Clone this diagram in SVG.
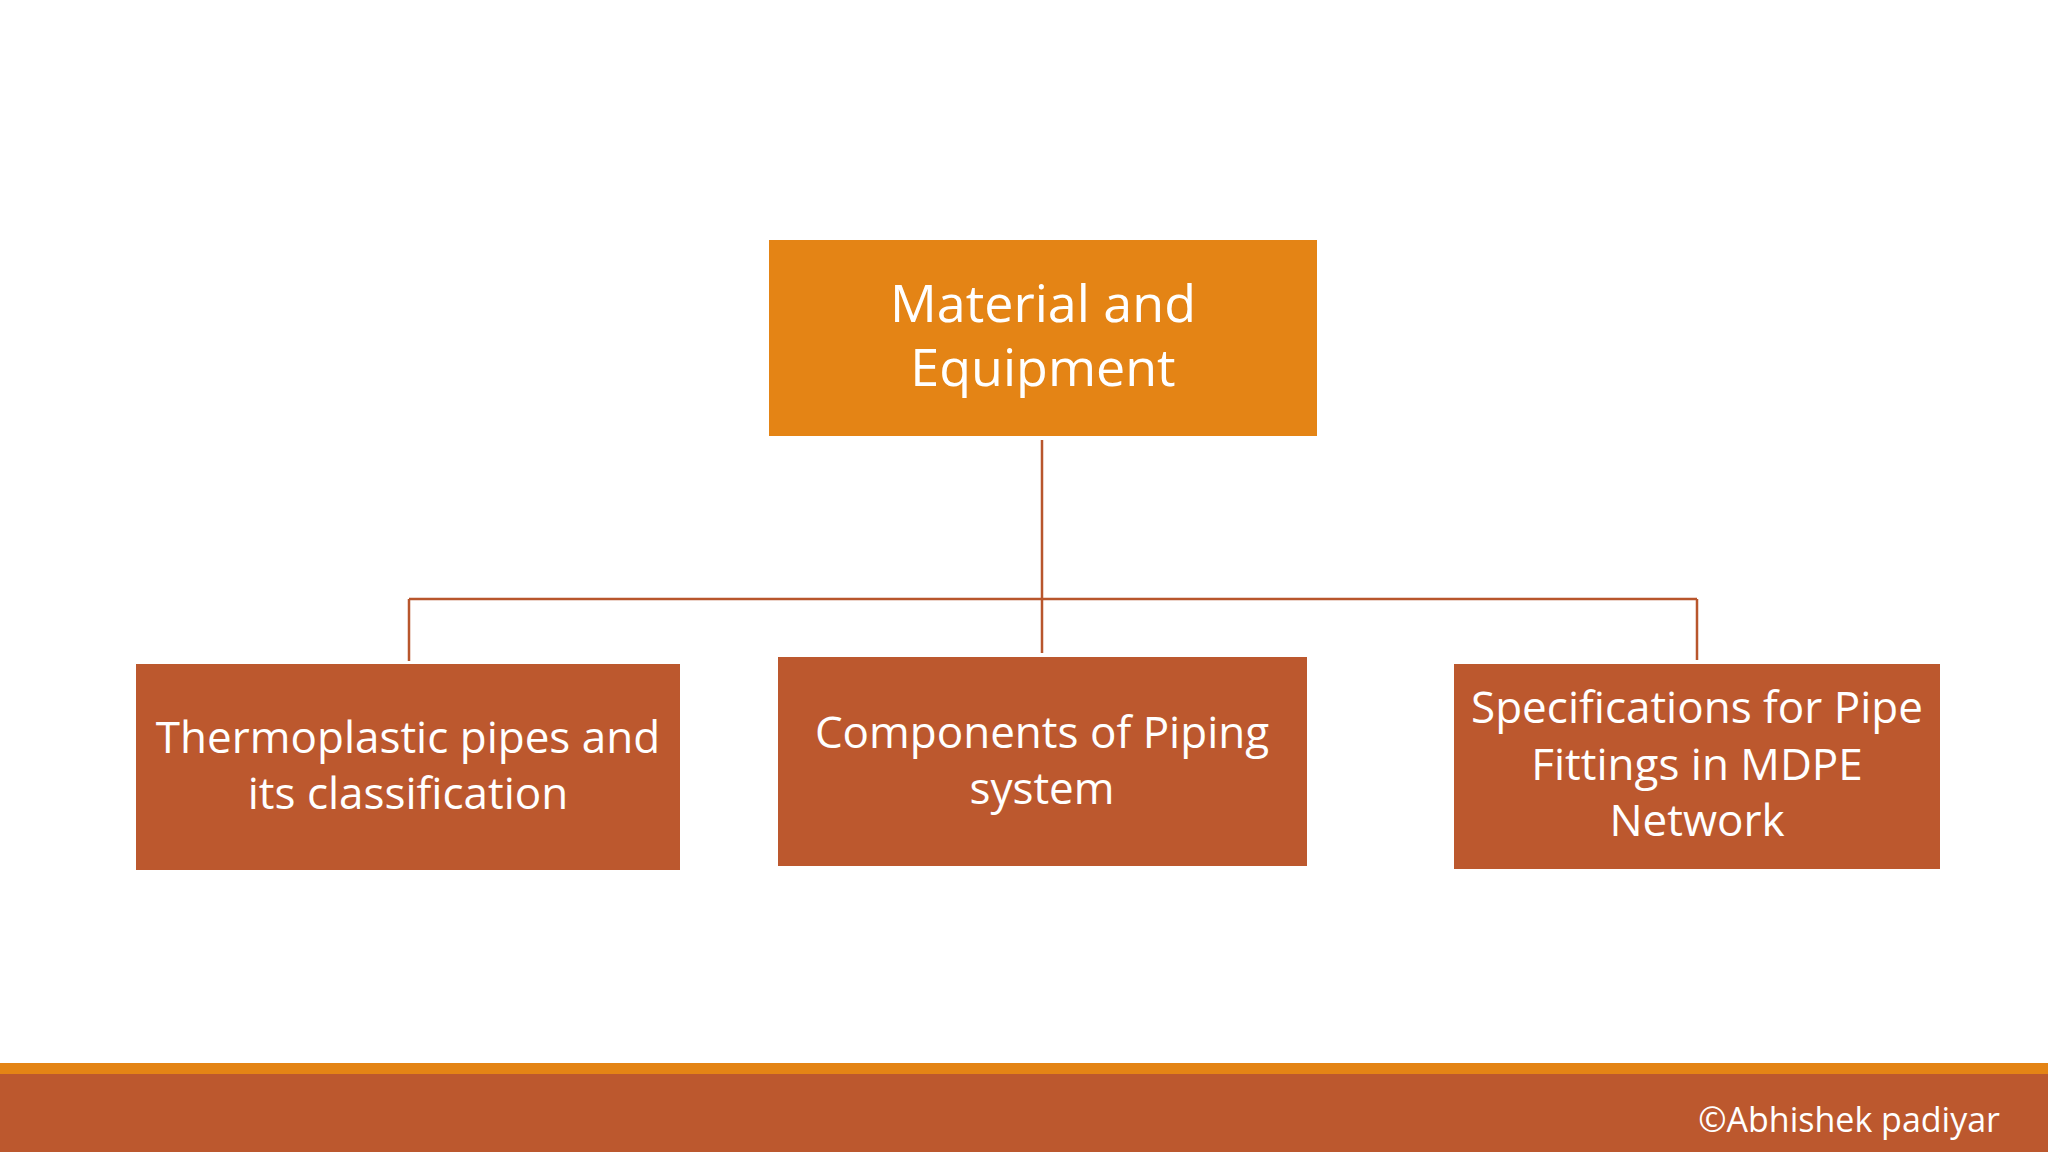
<svg xmlns="http://www.w3.org/2000/svg" width="2048" height="1152" viewBox="0 0 2048 1152">
<style>
.t{font-family:"Open Sans","Liberation Sans",sans-serif;fill:#fff;text-anchor:middle}
.c{stroke:#B8562C;stroke-width:2.5;fill:none}
</style>
<rect width="2048" height="1152" fill="#fff"/>
<g id="connectors">
<path class="c" d="M1042 440V653M409 599H1697M409 599V661M1697 599V660"/>
</g>
<g id="root">
<rect x="769" y="240" width="548" height="196" fill="#E48415"/>
<text class="t" font-size="52" x="1043" y="322">Material and</text>
<text class="t" font-size="52" x="1043" y="386">Equipment</text>
</g>
<g id="n1">
<rect x="136" y="664" width="544" height="206" fill="#BC582E"/>
<text class="t" font-size="44" x="408" y="753">Thermoplastic pipes and</text>
<text class="t" font-size="44" x="408" y="809">its classification</text>
</g>
<g id="n2">
<rect x="778" y="657" width="529" height="209" fill="#BC582E"/>
<text class="t" font-size="44" x="1042" y="748">Components of Piping</text>
<text class="t" font-size="44" x="1042" y="804">system</text>
</g>
<g id="n3">
<rect x="1454" y="664" width="486" height="205" fill="#BC582E"/>
<text class="t" font-size="44" x="1697" y="723">Specifications for Pipe</text>
<text class="t" font-size="44" x="1697" y="780">Fittings in MDPE</text>
<text class="t" font-size="44" x="1697" y="836">Network</text>
</g>
<rect x="0" y="1063" width="2048" height="11" fill="#E48415"/>
<rect x="0" y="1074" width="2048" height="78" fill="#BC582E"/>
<text font-family="Open Sans,Liberation Sans,sans-serif" font-size="34" fill="#fff" text-anchor="end" x="2000" y="1132">©Abhishek padiyar</text>
</svg>
